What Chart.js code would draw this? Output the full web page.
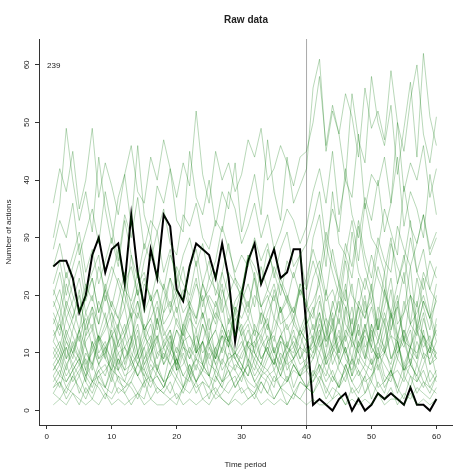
<!DOCTYPE html>
<html><head><meta charset="utf-8">
<script src="https://cdn.jsdelivr.net/npm/chart.js@4.4.0/dist/chart.umd.min.js"></script>
<style>html,body{margin:0;padding:0;background:#fff}</style>
</head><body>
<canvas id="c" width="474" height="474"></canvas>
<script>
const periods = Array.from({length:60},(_, i)=>i+1);
const highlight = [25,26,26,23,17,20,27,30,24,28,29,22,34,24,18,28,23,34,32,21,19,25,29,28,27,23,29,23,12,20,26,29,22,25,28,23,24,28,28,14,1,2,1,0,2,3,0,2,0,1,3,2,3,2,1,4,1,1,0,2];
const s1=[5,7,4,6,8,5,3,6,7,9,5,4,6,8,7,5,6,4,7,9,6,5,8,6,4,7,5,6,8,7,5,4,6,7,9,6,5,7,6,4,6,8,5,7,4,6,9,7,5,6,8,4,6,7,5,8,6,4,7,5];
const s2=[10,12,9,11,14,8,10,13,11,9,12,15,10,8,11,13,9,12,10,14,11,9,13,10,12,8,11,14,10,9,12,11,13,10,8,12,11,9,13,10,12,15,9,11,13,10,8,12,14,11,9,10,13,12,8,11,14,10,9,12];
const s3=[15,18,13,16,20,14,17,12,15,19,16,13,18,21,14,16,12,17,19,15,13,18,16,20,14,17,15,12,18,16,19,14,13,17,20,15,16,18,14,17,19,22,16,14,20,18,15,23,17,19,14,21,16,18,24,15,17,20,16,19];
const s4=[8,6,11,7,9,5,12,8,6,10,7,13,9,6,8,11,7,5,10,8,12,6,9,7,11,8,5,10,9,7,12,8,6,9,11,7,10,8,6,9,13,7,10,16,8,11,6,12,9,15,7,10,8,13,6,11,9,14,8,10];
const s5=[20,24,18,22,26,19,23,17,21,25,22,18,27,20,23,19,24,21,17,25,22,20,26,18,23,21,19,24,22,20,27,23,18,21,25,22,19,24,20,23,28,24,31,26,22,29,25,33,27,23,30,26,24,32,28,25,29,34,27,30];
const s6=[3,2,4,3,1,4,2,5,3,2,4,3,1,3,5,2,4,3,2,1,4,3,5,2,3,4,2,1,3,4,2,3,5,3,2,4,1,3,2,4,3,5,2,4,3,1,4,2,3,5,3,2,4,1,3,2,4,3,2,4];
const s7=[12,16,9,14,18,11,7,13,17,10,15,8,12,19,14,9,16,11,13,7,15,18,10,12,16,9,14,11,17,13,8,15,12,10,16,14,9,13,11,15,18,12,21,15,10,17,22,13,19,11,16,24,14,18,12,20,15,23,17,13];
const s8=[28,33,30,36,27,31,35,29,38,32,26,34,30,37,28,33,31,35,29,27,34,32,36,30,28,33,31,38,35,29,32,36,30,34,28,31,35,33,29,32,38,42,36,45,34,40,37,48,35,41,39,44,36,50,38,43,40,46,37,42];
const s9=[7,9,6,8,10,7,5,8,11,6,9,7,8,10,6,9,7,11,8,6,10,7,9,8,6,11,7,9,10,8,6,9,7,10,8,12,7,9,6,8,10,13,8,11,9,7,12,10,8,14,9,11,7,10,13,8,12,9,11,10];
const s10=[17,14,19,16,21,13,18,15,20,17,14,22,16,19,13,18,21,15,17,20,14,19,16,22,18,15,21,17,13,19,16,20,18,14,21,17,19,15,22,18,16,24,19,21,17,26,20,18,23,19,25,21,17,22,27,20,18,24,21,19];
const s11=[36,42,38,45,35,40,49,37,43,39,34,41,46,38,36,44,40,47,42,37,43,39,52,41,36,45,40,43,38,41,47,44,49,40,42,46,43,39,44,45,50,58,46,53,48,55,51,44,56,49,52,47,59,50,45,54,60,48,43,51];
const s12=[4,6,5,7,3,6,8,5,4,7,6,3,5,8,6,4,7,5,3,6,4,8,5,7,6,3,5,7,4,6,8,5,3,6,7,4,5,8,6,4,7,5,9,6,4,8,5,7,3,6,9,5,7,4,8,6,5,7,4,6];
const s13=[14,11,16,13,10,15,18,12,14,17,11,13,16,10,15,12,18,14,11,16,13,17,10,15,12,14,19,11,16,13,15,10,17,12,14,18,11,15,13,16,12,19,14,11,17,22,13,16,20,12,18,15,21,13,17,25,14,19,16,12];
const s14=[22,26,20,25,29,21,24,27,19,23,28,22,25,20,26,30,23,21,27,24,19,25,28,22,26,20,24,29,23,21,27,25,22,28,24,20,26,23,27,21,30,34,25,38,29,27,33,26,36,30,28,35,31,27,39,32,29,34,28,31];
const s15=[9,11,8,10,13,7,12,9,10,14,8,11,9,13,7,10,12,8,11,9,14,10,7,12,9,11,13,8,10,12,9,7,11,13,10,8,12,9,11,10,11,14,9,12,16,10,13,8,15,11,9,13,17,10,12,8,14,11,13,9];
const s16=[1,2,1,3,2,1,2,1,3,1,2,1,2,3,1,2,1,1,2,3,1,2,1,2,1,3,2,1,2,1,2,3,1,2,1,2,1,3,2,1,2,1,1,2,3,1,2,1,2,1,3,1,2,2,1,3,1,2,1,2];
const s17=[11,9,13,10,8,12,14,9,11,13,10,7,12,15,9,11,13,8,10,14,12,9,11,8,13,10,15,12,9,11,14,10,8,12,13,9,11,10,14,12,10,16,12,14,9,13,18,11,15,10,12,17,13,9,14,11,19,12,10,15];
const s18=[25,29,23,27,31,24,28,22,26,30,25,33,27,23,29,26,31,24,28,22,27,30,25,29,23,26,32,28,24,27,25,30,26,29,23,28,31,25,27,29,33,38,29,35,31,42,34,30,37,33,40,31,36,44,32,38,35,30,41,34];
const s19=[6,8,5,7,9,6,4,7,8,5,9,6,7,10,5,8,6,4,7,9,6,8,5,7,10,6,4,8,7,5,9,6,8,7,5,6,9,4,7,8,6,10,7,5,8,11,6,9,7,5,10,8,6,12,7,9,5,8,11,6];
const s20=[18,21,16,19,23,17,20,15,22,18,16,21,19,24,17,20,15,22,18,21,17,19,23,16,20,18,22,15,19,21,17,24,18,20,16,22,19,17,21,18,23,26,20,28,22,19,31,24,21,27,23,20,29,25,22,30,24,21,26,23];
const s21=[30,36,49,40,33,38,31,44,35,29,37,41,32,46,34,30,39,36,42,33,31,45,37,34,40,32,38,35,43,31,36,41,34,47,38,33,44,36,39,42,56,61,45,52,48,40,55,47,43,58,50,46,53,41,49,57,44,62,51,46];
const s22=[13,15,12,10,14,16,11,13,9,15,12,14,17,10,13,11,16,12,14,10,15,13,11,17,12,14,10,16,13,15,11,12,14,16,10,13,15,11,14,12,13,17,11,15,19,12,16,10,14,18,13,11,16,20,12,15,13,17,11,14];
const s23=[4,5,3,6,4,2,5,7,4,3,6,5,4,2,5,6,3,4,7,5,3,6,4,5,2,6,4,3,5,7,4,3,6,5,2,4,6,3,5,4,5,7,3,6,4,8,5,3,6,9,4,5,7,3,6,4,8,5,3,6];
const s24=[19,16,22,18,14,20,23,17,21,15,19,24,18,16,22,20,14,19,23,17,21,18,15,22,19,16,24,20,17,21,18,23,15,19,22,17,20,16,21,19,14,17,12,19,15,21,13,18,16,22,14,20,17,12,19,15,23,18,14,20];
const s25=[8,10,7,12,9,6,11,8,10,13,7,9,12,8,11,6,10,9,13,7,8,11,9,12,6,10,8,13,9,7,11,10,8,12,9,6,10,11,8,9,12,10,14,8,11,13,9,15,10,8,12,16,9,11,14,10,8,13,11,9];
const s26=[12,10,14,11,9,13,15,10,12,8,14,11,13,9,12,15,10,11,14,8,12,13,10,15,11,9,13,12,10,14,11,9,12,15,10,13,11,14,9,12,15,11,13,17,10,14,12,18,11,13,16,10,14,19,12,11,15,13,10,16];
const s27=[6,4,8,5,7,9,5,6,4,8,7,5,9,6,4,7,8,5,6,9,4,7,5,8,6,5,9,7,4,6,8,5,7,6,4,9,5,8,6,7,5,8,6,10,7,5,9,6,8,7,11,6,5,9,7,8,6,10,5,7];
const s28=[16,13,18,15,12,17,14,19,16,13,15,18,12,17,14,16,19,13,15,18,12,16,14,17,13,19,15,12,18,14,16,13,17,15,12,18,14,16,13,15,17,20,14,18,22,15,13,19,16,21,14,18,23,15,17,20,14,19,16,22];
const s29=[3,5,2,4,6,3,5,4,2,6,3,4,5,3,2,6,4,3,5,2,4,6,3,5,4,2,3,5,6,3,4,2,5,3,6,4,3,2,5,4,3,6,4,2,5,7,3,4,6,2,5,3,7,4,2,6,3,5,4,3];
const s30=[10,8,12,9,14,11,8,13,10,7,12,9,11,14,8,10,13,9,12,7,11,10,14,8,12,9,13,11,7,10,12,14,9,11,8,13,10,12,9,11,9,13,16,10,12,18,11,14,9,15,12,10,17,13,11,14,9,16,12,10];
const s31=[21,18,24,20,17,22,19,25,21,18,23,20,16,22,24,19,21,17,23,20,25,18,22,19,21,24,17,20,23,19,22,18,25,21,19,23,20,17,22,21,26,22,29,24,20,27,23,32,25,21,28,24,30,22,26,33,24,28,21,25];
const s32=[7,9,11,8,6,10,8,12,9,7,10,11,8,6,9,12,7,10,8,11,9,6,10,12,8,7,11,9,10,8,6,12,9,11,7,10,8,9,11,7,9,12,8,10,14,9,7,11,13,8,10,15,9,12,7,11,10,13,8,9];
const background=[s1,s2,s3,s4,s5,s6,s7,s8,s9,s10,s11,s12,s13,s14,s15,s16,s17,s18,s19,s20,s21,s22,s23,s24,s25,s26,s27,s28,s29,s30,s31,s32];
const xTicks=[0,10,20,30,40,50,60];
const yTicks=[0,10,20,30,40,50,60];
const countLabel="239";
const changePeriod=40;

const toPts = arr => arr.map((v,i)=>({x:periods[i], y:v}));
const datasets = background.map(s=>({data:toPts(s), borderColor:'rgba(0,115,0,0.28)', borderWidth:1, pointRadius:0, tension:0}));
datasets.push({data:toPts(highlight), borderColor:'#000', borderWidth:2, pointRadius:0, tension:0});

const extras = {id:'extras', beforeDatasetsDraw(ch){
  const c=ch.ctx, x=ch.scales.x, a=ch.chartArea;
  const px=x.getPixelForValue(changePeriod);
  c.save(); c.strokeStyle='#aaa'; c.lineWidth=1;
  c.beginPath(); c.moveTo(px,a.top); c.lineTo(px,a.bottom); c.stroke(); c.restore();
}, afterDraw(ch){
  const c=ch.ctx, y=ch.scales.y;
  c.save(); c.fillStyle='#222'; c.font='8px Arial, "Liberation Sans"'; c.textBaseline='middle';
  c.fillText(countLabel, 47, y.getPixelForValue(60)+1);
  c.textAlign='center';
  yTicks.forEach(v=>{ const py=y.getPixelForValue(v); c.save(); c.translate(27,py); c.rotate(-Math.PI/2); c.fillText(String(v),0,0); c.restore(); });
  c.font='bold 10px Arial, "Liberation Sans"';
  c.fillText('Raw data', 246, 20);
  c.restore();
}};

new Chart(document.getElementById('c'), {
  type:'line',
  data:{datasets},
  plugins:[extras],
  options:{
    responsive:false, animation:false,
    layout:{padding:{top:39,right:22,left:0,bottom:0}},
    plugins:{legend:{display:false}, tooltip:{enabled:false}},
    scales:{
      x:{type:'linear', min:-1.2, max:62.4,
        afterBuildTicks(s){ s.ticks = xTicks.map(v=>({value:v})); },
        afterFit(s){ s.height=49; },
        grid:{display:true, drawOnChartArea:false, drawTicks:true, tickLength:4, color:'#333'},
        border:{display:true, color:'#333'},
        ticks:{color:'#222', font:{size:8, family:'Arial, "Liberation Sans"'}, padding:3, maxRotation:0},
        title:{display:true, text:'Time period', color:'#222', font:{size:8, family:'Arial, "Liberation Sans"'}, padding:{top:6}}
      },
      y:{type:'linear', min:-2.5, max:64.5,
        afterBuildTicks(s){ s.ticks = yTicks.map(v=>({value:v})); },
        afterFit(s){ s.width=39; },
        grid:{display:true, drawOnChartArea:false, drawTicks:true, tickLength:4, color:'#333'},
        border:{display:true, color:'#333'},
        ticks:{display:false},
        title:{display:true, text:'Number of actions', color:'#222', font:{size:8, family:'Arial, "Liberation Sans"'}, padding:{bottom:0}}
      }
    }
  }
});
</script>
</body></html>
